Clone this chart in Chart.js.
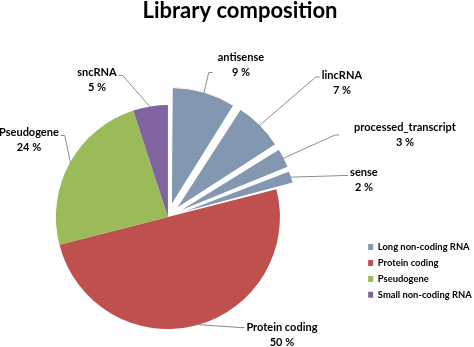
<!DOCTYPE html>
<html>
<head>
<meta charset="utf-8">
<script src="https://cdn.jsdelivr.net/npm/chart.js@4"></script>
<style>
  body { margin: 0; background: #fff; }
  #wrap { width: 474px; height: 347px; }
</style>
</head>
<body>
<div id="wrap"><canvas id="libChart"></canvas></div>
<script>
// biotype shares (%), clockwise from 12 o'clock
var biotypes = ['antisense', 'lincRNA', 'processed_transcript', 'sense', 'Protein coding', 'Pseudogene', 'sncRNA'];
var shares = [9, 7, 3, 2, 50, 24, 5];
// which legend group each biotype belongs to
var groupOf = [0, 0, 0, 0, 1, 2, 3];
var groups = ['Long non-coding RNA', 'Protein coding', 'Pseudogene', 'Small non-coding RNA'];

var groupColors = ['#8497B0', '#C0504D', '#9BBB59', '#8064A2'];
// the long non-coding wedges are pulled out of the pie
var explode = [49, 46, 40, 38, 0, 0, 0];

// label placement relative to the pie centre, and where the leader line meets the text
var labelSpots = [
    {dx: 73, dy: -152, tail: 1, gap: 5},
    {dx: 174, dy: -134, tail: 0.1, gap: 2},
    {dx: 237, dy: -82, tail: 0.5, gap: 15},
    {dx: 196, dy: -37, tail: 0.2, gap: 2},
    {dx: 114, dy: 118, tail: 0, gap: 2},
    {dx: -139, dy: -77, tail: 0.2, gap: 2},
    {dx: -71, dy: -137, tail: 0.2, gap: 2}
];

var sliceLabels = {
    id: 'sliceLabels',
    afterDatasetsDraw: function(chart) {
        var ctx = chart.ctx;
        var arcs = chart.getDatasetMeta(0).data;
        ctx.save();
        ctx.font = 'bold 11px Lato';
        ctx.textAlign = 'center';
        ctx.textBaseline = 'middle';
        arcs.forEach(function(arc, i) {
            var a = (arc.startAngle + arc.endAngle) / 2;
            var shift = (arc.options.offset || 0) / 4;
            var fix = 1 - Math.sin(Math.min(Math.PI, arc.circumference));
            var reach = shift + arc.outerRadius + shift * fix - 1;
            var ax = arc.x + Math.cos(a) * reach;
            var ay = arc.y + Math.sin(a) * reach;

            var spot = labelSpots[i];
            var cx = arc.x + spot.dx;
            var cy = arc.y + spot.dy;
            var line1 = biotypes[i];
            var line2 = shares[i] + ' %';
            var w = Math.max(ctx.measureText(line1).width, ctx.measureText(line2).width);
            var toRight = cx > ax;
            var ex = toRight ? cx - w / 2 - spot.gap : cx + w / 2 + spot.gap;
            var ey = cy - 7.5 + spot.tail * 15;
            var kx = toRight ? ex - 4 : ex + 4;

            ctx.strokeStyle = '#8c8c8c';
            ctx.lineWidth = 1;
            ctx.beginPath();
            ctx.moveTo(ax, ay);
            ctx.lineTo(kx, ey);
            ctx.lineTo(ex, ey);
            ctx.stroke();

            ctx.fillStyle = '#000';
            ctx.fillText(line1, cx, cy - 7.5);
            ctx.fillText(line2, cx, cy + 7.5);
        });
        ctx.restore();
    }
};

var ctx = document.getElementById('libChart').getContext('2d');
var myChart = new Chart(ctx, {
    type: 'pie',
    data: {
        labels: biotypes,
        datasets: [{
            data: shares,
            backgroundColor: groupOf.map(function(g) { return groupColors[g]; }),
            offset: explode,
            borderWidth: [1, 1, 1, 1, 0, 0, 0],
            borderColor: '#fff',
            radius: 112
        }]
    },
    options: {
        responsive: true,
        maintainAspectRatio: false,
        animation: false,
        layout: {
            padding: {left: -1.7, right: -7.7, top: 0, bottom: 41}
        },
        plugins: {
            title: {
                display: true,
                text: 'Library composition',
                color: '#000',
                font: {family: 'Lato', size: 22, weight: 'bold', lineHeight: 1},
                padding: {top: 0, bottom: 106}
            },
            // empty box that keeps the pie clear of the legend
            subtitle: {
                display: true,
                text: '',
                position: 'right',
                fullSize: false,
                weight: 500,
                font: {size: 1, lineHeight: 1},
                padding: {top: 0, bottom: 24.8}
            },
            legend: {
                position: 'right',
                align: 'end',
                labels: {
                    boxWidth: 5,
                    boxHeight: 6,
                    padding: 6.5,
                    color: '#000',
                    font: {family: 'Lato', size: 9.4, weight: 'bold'},
                    generateLabels: function() {
                        return groups.map(function(name, g) {
                            return {text: name, fillStyle: groupColors[g], strokeStyle: groupColors[g], lineWidth: 0, hidden: false, index: g};
                        });
                    }
                }
            },
            tooltip: {enabled: false}
        }
    },
    plugins: [sliceLabels]
});
</script>
</body>
</html>
